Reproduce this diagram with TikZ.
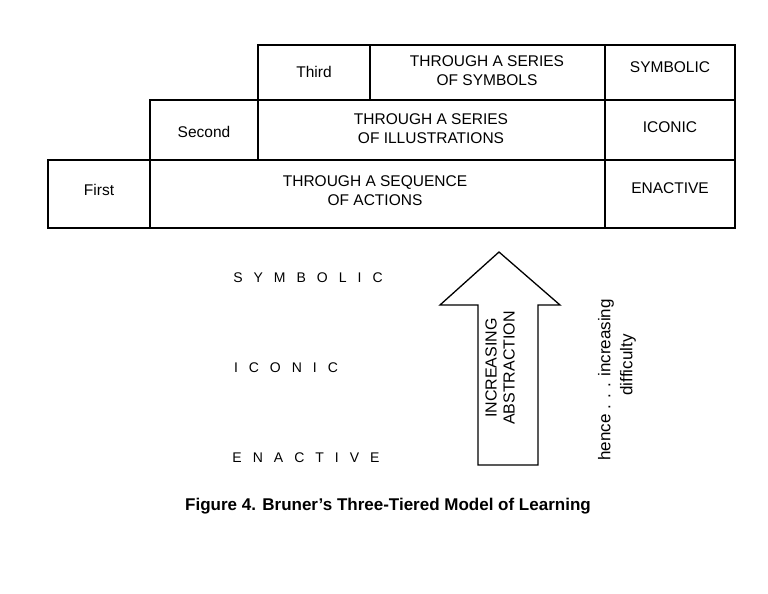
\documentclass[tikz,border=0pt]{standalone}
\usepackage{fontspec}
\setmainfont{Liberation Sans}
\newcommand{\gp}{\hspace{11pt}}
\begin{document}
\begin{tikzpicture}[x=1pt,y=-1pt,
  cell/.style={draw,line width=1.1pt},
  lbl/.style={font=\fontsize{15.5}{19}\selectfont,align=center},
  big/.style={font=\fontsize{14}{16}\selectfont},
  rot/.style={rotate=90,font=\fontsize{16}{18}\selectfont,align=center}]
\useasboundingbox (0,0) rectangle (768,594);
% table
\draw[cell] (258,45) rectangle (370,100);
\draw[cell] (370,45) rectangle (605,100);
\draw[cell] (605,45) rectangle (735,100);
\draw[cell] (150,100) rectangle (258,160);
\draw[cell] (258,100) rectangle (605,160);
\draw[cell] (605,100) rectangle (735,160);
\draw[cell] (48,160) rectangle (150,228);
\draw[cell] (150,160) rectangle (605,228);
\draw[cell] (605,160) rectangle (735,228);
\node[lbl] (t1) at (314,72) {Third};
\node[lbl] (t2) at (487,71) {THROUGH A SERIES\\OF SYMBOLS};
\node[lbl] (t3) at (670,67) {SYMBOLIC};
\node[lbl] (s1) at (204,132) {Second};
\node[lbl] (s2) at (431,129) {THROUGH A SERIES\\OF ILLUSTRATIONS};
\node[lbl] (s3) at (670,127) {ICONIC};
\node[lbl] (f1) at (99,190) {First};
\node[lbl] (f2) at (375,191) {THROUGH A SEQUENCE\\OF ACTIONS};
\node[lbl] (f3) at (670,188) {ENACTIVE};
% levels
\node[big] (sym) at (308,278) {S\gp Y\gp M\gp B\gp O\gp L\gp I\gp C};
\node[big] (ico) at (286,368) {I\gp C\gp O\gp N\gp I\gp C};
\node[big] (ena) at (306,458) {E\gp N\gp A\gp C\gp T\gp I\gp V\gp E};
% arrow
\draw[line width=1.3pt,line join=miter] (478,465) -- (478,305) -- (440,305) -- (499,252) -- (560,305) -- (538,305) -- (538,465) -- cycle;
\node[rot] (abs) at (500,368) {INCREASING\\ABSTRACTION};
\node[rot,font=\fontsize{17}{19}\selectfont] (hen) at (606,380) {hence . . . increasing};
\node[rot,font=\fontsize{17}{19}\selectfont] (dif) at (628,365) {difficulty};
\node[font=\bfseries\fontsize{17}{20}\selectfont] (cap) at (388,506) {Figure 4. Bruner's Three-Tiered Model of Learning};
\end{tikzpicture}
\end{document}
